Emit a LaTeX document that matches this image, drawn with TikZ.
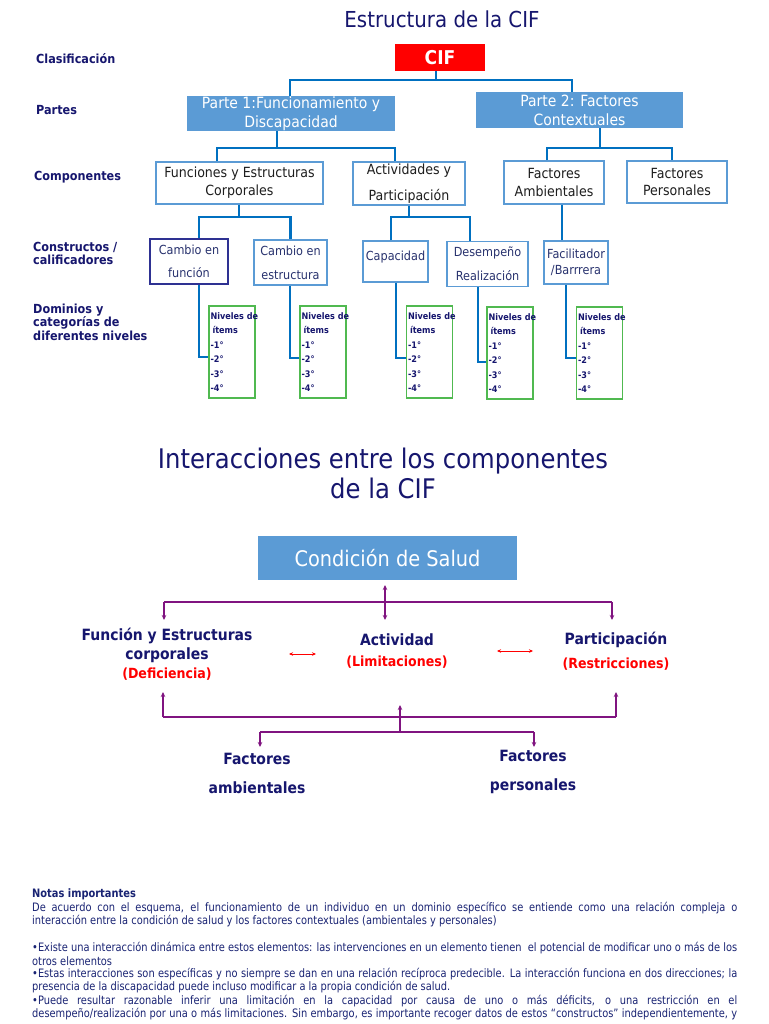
\documentclass[tikz,border=0pt]{standalone}
\usepackage{fontspec}
\setmainfont{DejaVu Sans}[FakeStretch=0.9]
\newfontfamily\notesfont{DejaVu Sans}[FakeStretch=0.85]
\usetikzlibrary{arrows.meta}
\definecolor{navy}{RGB}{22,22,110}
\definecolor{lnblue}{RGB}{0,112,192}
\definecolor{bxblue}{RGB}{91,155,213}
\definecolor{bxnavy}{RGB}{46,49,146}
\definecolor{grn}{RGB}{80,185,80}
\definecolor{purp}{RGB}{128,20,128}
\definecolor{txtdark}{RGB}{30,30,30}
\definecolor{txtslate}{RGB}{40,50,110}
\definecolor{notecol}{RGB}{25,35,115}
\newcommand\fsz[2]{\fontsize{#1}{#2}\selectfont}
\tikzset{
  lbl/.style={anchor=west, text=navy, font=\bfseries\fsz{12.5}{13.5}, align=left, inner sep=0},
  partbox/.style={fill=bxblue, text=white, align=center, inner sep=0},
  compbox/.style={draw=bxblue, line width=1.3pt, fill=white, text=txtdark, align=center, inner sep=0},
  consbox/.style={draw=bxblue, line width=1.3pt, fill=white, text=txtslate, align=center, inner sep=0},
  nivbox/.style={draw=grn, line width=1.3pt, text=navy, font=\bfseries\fsz{9}{14.4}, align=left,
     inner xsep=1.5pt, inner ysep=0pt, text width=43pt, minimum height=92pt},
  bl/.style={draw=lnblue, line width=2.2pt},
  pl/.style={draw=purp, line width=1.2pt},
  tip/.style={-{Stealth[length=5pt,width=4.5pt]}},
  dtip/.style={{Stealth[length=5pt,width=4.5pt]}-{Stealth[length=5pt,width=4.5pt]}},
  rtip/.style={draw=red, line width=0.9pt, {Stealth[length=4pt,width=3.5pt]}-{Stealth[length=4pt,width=3.5pt]}},
  headtxt/.style={text=navy, align=center, inner sep=0, font=\bfseries\fsz{15.5}{19}},
  notes/.style={anchor=west, text=notecol, inner sep=0, font=\notesfont\fsz{11.6}{13}},
}
\begin{document}
\begin{tikzpicture}[x=1pt,y=-1pt]
\fill[white] (0,0) rectangle (768,1024);
\useasboundingbox (0,0) rectangle (768,1024);

% ---------- Title 1
\node[text=navy, inner sep=0, font=\fsz{22}{26}] (title1) at (442,19) {Estructura de la CIF};

% ---------- Left labels
\node[lbl] (l1) at (36,59) {Clasificación};
\node[lbl] (l2) at (36,110) {Partes};
\node[lbl] (l3) at (34,177) {Componentes};
\node[lbl] (l4) at (33,253.5) {Constructos /\\calificadores};
\node[lbl] (l5) at (33,322) {Dominios y\\categorías de\\diferentes niveles};

% ---------- Tree boxes
\node[fill=red, text=white, inner sep=0, minimum width=90pt, minimum height=27pt, font=\bfseries\fsz{19}{22}] (cif) at (440,57.5) {CIF};
\node[partbox, minimum width=208pt, minimum height=35pt, font=\fsz{15.5}{19}] (p1) at (291,113.5) {Parte 1:Funcionamiento y\\Discapacidad};
\node[partbox, minimum width=207pt, minimum height=36pt, font=\fsz{15.5}{19}] (p2) at (579.5,110) {Parte 2: Factores\\Contextuales};

\node[compbox, minimum width=167pt, minimum height=42pt, font=\fsz{14}{18}] (fe) at (239.5,183) {Funciones y Estructuras\\Corporales};
\node[compbox, minimum width=112pt, minimum height=43pt, font=\fsz{14}{26}] (ap) at (409,183.5) {Actividades y\\Participación};
\node[compbox, minimum width=100pt, minimum height=43pt, font=\fsz{14}{18}] (fa) at (554,182.5) {Factores\\Ambientales};
\node[compbox, minimum width=100pt, minimum height=42pt, font=\fsz{14}{17}] (fp) at (677,182) {Factores\\Personales};

\node[consbox, draw=bxnavy, minimum width=78pt, minimum height=45pt, font=\fsz{12.5}{23}] (cf) at (189,261.5) {Cambio en\\función};
\node[consbox, minimum width=73pt, minimum height=45pt, font=\fsz{12.5}{24}] (ce) at (290.5,262.5) {Cambio en\\estructura};
\node[consbox, minimum width=65pt, minimum height=41pt, font=\fsz{12.5}{15}] (cap) at (395.5,261.5) {\raisebox{4.5pt}[\height][\depth]{Capacidad}};
\node[consbox, minimum width=81pt, minimum height=45pt, font=\fsz{12.5}{24}] (des) at (487.5,264) {Desempeño\\Realización};
\node[consbox, minimum width=64pt, minimum height=43pt, font=\fsz{12.5}{16}] (fb) at (576,262.5) {Facilitador\\/Barrrera};

\node[nivbox] (g1) at (232,352) {\mbox{Niveles de}\\\hspace*{2pt}ítems\\-1°\\-2°\\-3°\\-4°};
\node[nivbox] (g2) at (323,352) {\mbox{Niveles de}\\\hspace*{2pt}ítems\\-1°\\-2°\\-3°\\-4°};
\node[nivbox] (g3) at (429.5,352) {\mbox{Niveles de}\\\hspace*{2pt}ítems\\-1°\\-2°\\-3°\\-4°};
\node[nivbox] (g4) at (510,353) {\mbox{Niveles de}\\\hspace*{2pt}ítems\\-1°\\-2°\\-3°\\-4°};
\node[nivbox] (g5) at (599.5,353) {\mbox{Niveles de}\\\hspace*{2pt}ítems\\-1°\\-2°\\-3°\\-4°};

% ---------- Tree connectors
\coordinate (j0) at (436,80);
\draw[bl] (cif.south -| j0) -- (j0);
\draw[bl] ([xshift=-1pt]p1.north) |- (j0) -| ([xshift=-7.5pt]p2.north);

\coordinate (j1) at (277,148);
\draw[bl] (p1.south -| j1) -- (j1);
\draw[bl] ([xshift=-22.5pt]fe.north) |- (j1) -| ([xshift=-14pt]ap.north);

\coordinate (j2) at (600,148);
\draw[bl] (p2.south -| j2) -- (j2);
\draw[bl] ([xshift=-7pt]fa.north) |- (j2) -| ([xshift=-5pt]fp.north);

\coordinate (j3) at (239,217);
\draw[bl] (fe.south -| j3) -- (j3);
\draw[bl] ([xshift=10pt]cf.north) |- (j3) -| (ce.north);

\coordinate (j4) at (409,217);
\draw[bl] (ap.south -| j4) -- (j4);
\draw[bl] ([xshift=-4.5pt]cap.north) |- (j4) -| ([xshift=-17.5pt]des.north);

\coordinate (j5) at (562,230);
\draw[bl] (fa.south -| j5) -- (fb.north -| j5);

\coordinate (e1) at (199,357);
\coordinate (e2) at (290,358);
\coordinate (e3) at (396,358);
\coordinate (e4) at (478,362);
\coordinate (e5) at (566,358);
\draw[bl] (cf.south -| e1) |- (g1.west |- e1);
\draw[bl] (ce.south -| e2) |- (g2.west |- e2);
\draw[bl] (cap.south -| e3) |- (g3.west |- e3);
\draw[bl] (des.south -| e4) |- (g4.west |- e4);
\draw[bl] (fb.south -| e5) |- (g5.west |- e5);

% ---------- Title 2
\node[text=navy, inner sep=0, align=center, font=\fsz{27}{30}] (title2) at (383,473) {Interacciones entre los componentes\\de la CIF};

\node[fill=bxblue, text=white, inner sep=0, minimum width=259pt, minimum height=44pt, font=\fsz{21.5}{24}] (cs) at (387.5,558) {Condición de Salud};

\node[headtxt] (fn) at (167,654) {Función y Estructuras\\corporales\\{\color{red}\fsz{14}{19}(Deficiencia)}};
\node[headtxt, font=\bfseries\fsz{15.5}{21}] (act) at (397,651.5) {Actividad\\{\color{red}\fsz{14}{21}(Limitaciones)}};
\node[headtxt, font=\bfseries\fsz{15.5}{24}] (par) at (616,651) {Participación\\{\color{red}\fsz{14}{24}(Restricciones)}};
\node[headtxt, font=\bfseries\fsz{15.5}{29}] (fam) at (257,773.5) {Factores\\ambientales};
\node[headtxt, font=\bfseries\fsz{15.5}{29}] (fpe) at (533,771.5) {Factores\\personales};

% ---------- Interaction connectors
\coordinate (tt) at (385,585);
\coordinate (tm) at (385,620);
\coordinate (hl) at (164,602);
\coordinate (hr) at (612,602);
\coordinate (tl) at (164,620);
\coordinate (tr) at (612,620);
\draw[pl] (hl) -- (hr);
\draw[pl,dtip] (tt) -- (tm);
\draw[pl,tip] (hl) -- (tl);
\draw[pl,tip] (hr) -- (tr);

\coordinate (ra1) at (289,654);
\coordinate (ra2) at (316,654);
\coordinate (rb1) at (497,651);
\coordinate (rb2) at (533,651);
\draw[rtip] (ra1) -- (ra2);
\draw[rtip] (rb1) -- (rb2);

\coordinate (bl1) at (163,717);
\coordinate (br1) at (616,717);
\coordinate (ul) at (163,692);
\coordinate (ur) at (616,692);
\coordinate (m2) at (400,732);
\coordinate (um) at (400,705);
\coordinate (fl) at (260,732);
\coordinate (fr) at (534,732);
\coordinate (fl2) at (260,747);
\coordinate (fr2) at (534,747);
\draw[pl] (bl1) -- (br1);
\draw[pl,tip] (bl1) -- (ul);
\draw[pl,tip] (br1) -- (ur);
\draw[pl,tip] (m2) -- (um);
\draw[pl] (fl) -- (fr);
\draw[pl,tip] (fl) -- (fl2);
\draw[pl,tip] (fr) -- (fr2);

% ---------- Notes
\node[notes, font=\notesfont\bfseries\fsz{11.6}{13}] (n0) at (32,894) {Notas importantes};
\node[notes] (n1) at (32,908) {\makebox[705pt][s]{De acuerdo con el esquema, el funcionamiento de un individuo en un dominio específico se entiende como una relación compleja o}};
\node[notes] (n2) at (32,921) {interacción entre la condición de salud y los factores contextuales (ambientales y personales)};
\node[notes] (n3) at (32,948) {\makebox[705pt][s]{•Existe una interacción dinámica entre estos elementos: las intervenciones en un elemento tienen\ \ el potencial de modificar uno o más de los}};
\node[notes] (n4) at (32,961) {otros elementos};
\node[notes] (n5) at (32,974) {\makebox[705pt][s]{•Estas interacciones son específicas y no siempre se dan en una relación recíproca predecible. La interacción funciona en dos direcciones; la}};
\node[notes] (n6) at (32,987) {presencia de la discapacidad puede incluso modificar a la propia condición de salud.};
\node[notes] (n7) at (32,1001) {\makebox[705pt][s]{•Puede resultar razonable inferir una limitación en la capacidad por causa de uno o más déficits, o una restricción en el}};
\node[notes] (n8) at (32,1014) {\makebox[705pt][s]{desempeño/realización por una o más limitaciones. Sin embargo, es importante recoger datos de estos “constructos” independientemente, y}};
\end{tikzpicture}
\end{document}
